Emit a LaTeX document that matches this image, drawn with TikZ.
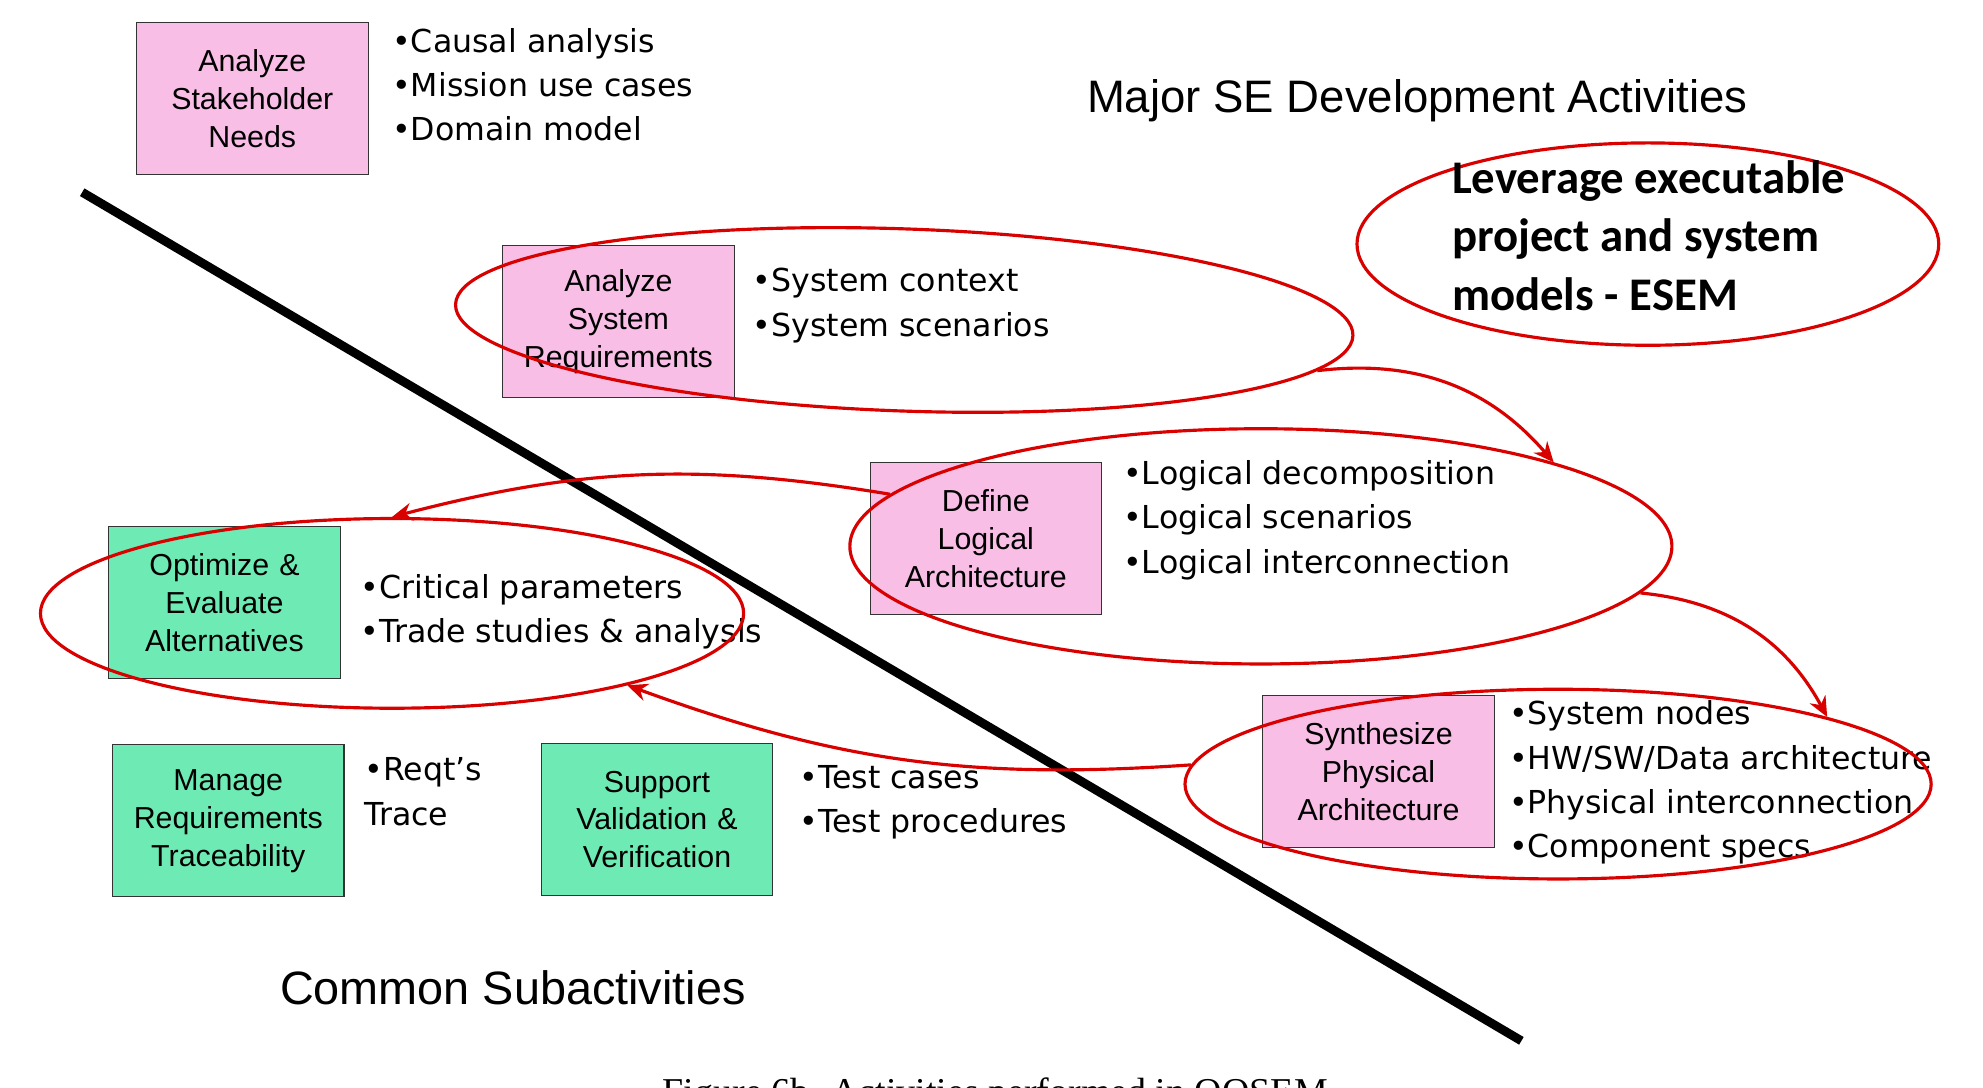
\documentclass[tikz,border=0pt]{standalone}
\usepackage{fontspec}
\setmainfont{Liberation Sans}
\newfontfamily\bulf{DejaVu Sans}
\newfontfamily\calf{Carlito}
\newfontfamily\serf{Liberation Serif}
\usetikzlibrary{shapes.geometric,arrows.meta}
\begin{document}
\begin{tikzpicture}[x=1pt,y=1pt,
  act/.style={draw=black!80,line width=0.8pt,minimum width=183pt,minimum height=120pt,align=center,font=\fontsize{24}{30}\selectfont,inner sep=0pt,text width=180pt},
  pinkbox/.style={act,fill={rgb,255:red,248;green,190;blue,230}},
  greenbox/.style={act,fill={rgb,255:red,110;green,235;blue,180}},
  bul/.style={anchor=north west,align=left,font=\bulf\fontsize{25}{35}\selectfont,inner sep=0pt},
  ell/.style={draw=red!85!black,line width=2.5pt,ellipse,inner sep=0pt},
  arr/.style={draw=red!85!black,line width=2.5pt,-{Stealth[length=16pt,width=14pt]}}]
\useasboundingbox (0,0) rectangle (1568,-860);
\fill[white] (0,0) rectangle (1568,-860);
% diagonal
\draw[line width=7pt] (65,-152) -- (1203,-823);
% boxes
\node[pinkbox] (asn) at (199.5,-78) {Analyze\\Stakeholder\\Needs};
\node[bul] (asnb) at (310,-22) {•Causal analysis\\•Mission use cases\\•Domain model};
\node[anchor=west,font=\fontsize{36}{40}\selectfont] (title) at (856,-80) {Major SE Development Activities};
\node[pinkbox] (asr) at (489,-254.5) {Analyze\\System\\Requirements};
\node[bul] (asrb) at (595,-212) {•System context\\•System scenarios};
\node[pinkbox] (dla) at (779.5,-426) {Define\\Logical\\Architecture};
\node[bul] (dlab) at (888,-364) {•Logical decomposition\\•Logical scenarios\\•Logical interconnection};
\node[greenbox] (oea) at (177.5,-476.5) {Optimize \&\\Evaluate\\Alternatives};
\node[bul] (oeab) at (285,-454) {•Critical parameters\\•Trade studies \& analysis};
\node[pinkbox] (spa) at (1090,-610) {Synthesize\\Physical\\Architecture};
\node[bul] (spab) at (1193,-554) {•System nodes\\•HW/SW/Data architecture\\•Physical interconnection\\•Component specs};
\node[greenbox] (mrt) at (180.5,-649) {Manage\\Requirements\\Traceability};
\node[bul] (mrtb) at (288,-599) {•Reqt’s\\Trace};
\node[greenbox] (svv) at (519.5,-648) {Support\\Validation \&\\Verification};
\node[bul] (svvb) at (632,-605) {•Test cases\\•Test procedures};
\node[anchor=west,font=\fontsize{37}{40}\selectfont] (common) at (218,-781) {Common Subactivities};
\node[font=\serf\fontsize{30}{36}\selectfont] (cap) at (787,-866) {Figure 6b. Activities performed in OOSEM};
% ellipses
\node[ell,minimum width=460pt,minimum height=160pt] (esem) at (1303,-193) {};
\node[anchor=north west,align=left,font=\calf\bfseries\fontsize{37}{46}\selectfont,inner sep=0pt] (esemt) at (1148,-127) {Leverage executable\\project and system\\models - ESEM};
\node[ell,minimum width=710pt,minimum height=144pt,rotate=-2] (e1) at (715,-253) {};
\node[ell,minimum width=650pt,minimum height=186pt] (e2) at (997,-432) {};
\node[ell,minimum width=556pt,minimum height=150pt] (e3) at (310,-485) {};
\node[ell,minimum width=590pt,minimum height=150pt] (e4) at (1232,-620) {};
% arrows
\draw[arr] (e1.-5) to[bend left=28] (e2.16);
\draw[arr] (e2.172) to[bend right=12] (e3.90);
\draw[arr] (e2.-7) to[bend left=28] (e4.14);
\draw[arr] (e4.177) to[bend left=12] (e3.-17);
\end{tikzpicture}
\end{document}
